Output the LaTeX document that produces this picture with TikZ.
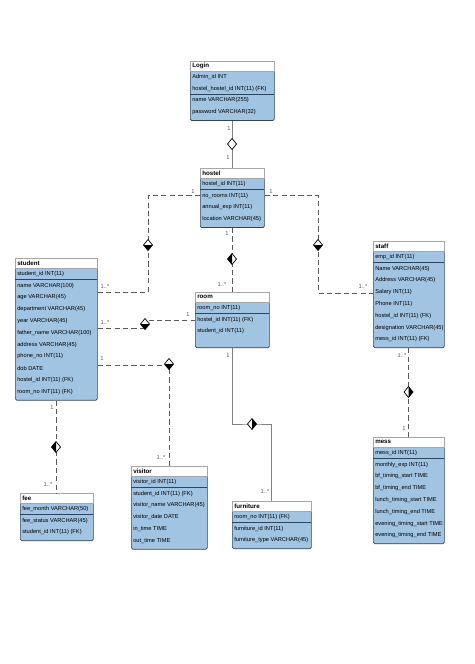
\documentclass[tikz,border=0pt]{standalone}
\usepackage{fontspec}
\setmainfont{Liberation Sans}
\usepackage{tikz}
\usetikzlibrary{calc}

\definecolor{tblblue}{RGB}{160,196,226}
\definecolor{tbledge}{RGB}{45,70,95}
\definecolor{linkgray}{RGB}{90,90,90}

\newcommand{\rowh}{11.8}
% table: [extra height]{name}{x}{y}{width}{title}{key rows}{other rows}
\newcommand{\ertable}[8][0]{%
  \foreach \rowtxt [count=\rowno] in {#7} {\xdef\nkey{\rowno}}
  \foreach \rowtxt [count=\rowno] in {#8} {\xdef\noth{\rowno}}
  \node[tblbody, minimum width=#5*0.025cm,
        minimum height={(12+\rowh*(\nkey+\noth)+#1)*0.025cm}] (#2) at (#3,#4) {};
  \draw[tblhead] (#3,#4) rectangle ++(#5,10);
  \node[tbltitle] (#2-title) at (#3,#4+5) {#6};
  \foreach \rowtxt [count=\rowno] in {#7}
    \node[tblrow] (#2-k\rowno) at (#3,#4+10+\rowh*\rowno-\rowh/2) {\rowtxt};
  \draw[sepline] (#3,#4+10+\rowh*\nkey) -- ++(#5,0);
  \foreach \rowtxt [count=\rowno] in {#8}
    \node[tblrow] (#2-o\rowno) at (#3,#4+10+\rowh*\nkey+\rowh*\rowno-\rowh/2) {\rowtxt};
}

\begin{document}
\begin{tikzpicture}[x=0.025cm, y=-0.025cm,
    tblbody/.style={draw=tbledge, fill=tblblue, line width=0.5pt, rounded corners=1pt,
        anchor=north west, inner sep=0pt},
    tblhead/.style={draw=gray!70, fill=white, line width=0.4pt},
    tbltitle/.style={anchor=west, inner sep=0pt, xshift=0.05cm,
        font=\fontsize{4.4}{5}\selectfont\bfseries},
    tblrow/.style={anchor=west, inner sep=0pt, xshift=0.05cm,
        font=\fontsize{4.05}{5}\selectfont},
    sepline/.style={draw=tbledge, line width=0.5pt},
    dashlink/.style={draw=linkgray, line width=0.6pt, dash pattern=on 1.3mm off 0.8mm},
    solidlink/.style={draw=gray, line width=0.7pt},
    mult/.style={inner sep=0pt, text=linkgray, font=\fontsize{4.1}{5}\selectfont},
    diaopen/.pic={\draw[black, line width=0.5pt, fill=white]
        (-4.5,0) -- (0,-5.5) -- (4.5,0) -- (0,5.5) -- cycle;},
    diatb/.pic={\fill[white] (-4.5,0) -- (0,-5.5) -- (4.5,0) -- (0,5.5) -- cycle;
        \fill[black] (-4.5,0) -- (4.5,0) -- (0,5.5) -- cycle;
        \draw[black, line width=0.5pt] (-4.5,0) -- (0,-5.5) -- (4.5,0) -- (0,5.5) -- cycle;},
    dialeft/.pic={\fill[white] (-4.5,0) -- (0,-5.5) -- (4.5,0) -- (0,5.5) -- cycle;
        \fill[black] (0,-5.5) -- (-4.5,0) -- (0,5.5) -- cycle;
        \draw[black, line width=0.5pt] (-4.5,0) -- (0,-5.5) -- (4.5,0) -- (0,5.5) -- cycle;},
    diaright/.pic={\fill[white] (-4.5,0) -- (0,-5.5) -- (4.5,0) -- (0,5.5) -- cycle;
        \fill[black] (0,-5.5) -- (4.5,0) -- (0,5.5) -- cycle;
        \draw[black, line width=0.5pt] (-4.5,0) -- (0,-5.5) -- (4.5,0) -- (0,5.5) -- cycle;}]

    \fill[white] (0,0) rectangle (474,664);
    \useasboundingbox (0,0) rectangle (474,664);

    %% ── Tables ─────────────────────────────────────────────────────────
    \ertable{login}{190}{61}{84}{Login}
        {Admin\_id INT, hostel\_hostel\_id INT(11) (FK)}
        {name VARCHAR(255), password VARCHAR(32)}
    \ertable{hostel}{200}{168}{64}{hostel}
        {hostel\_id INT(11)}
        {no\_rooms INT(11), annual\_exp INT(11), location VARCHAR(45)}
    \ertable{student}{15}{258}{82}{student}
        {student\_id INT(11)}
        {name VARCHAR(100), age VARCHAR(45), department VARCHAR(45),
         year VARCHAR(45), father\_name VARCHAR(100), address VARCHAR(45),
         phone\_no INT(11), dob DATE, hostel\_id INT(11) (FK), room\_no INT(11) (FK)}
    \ertable{staff}{373}{241}{71}{staff}
        {emp\_id INT(11)}
        {Name VARCHAR(45), Address VARCHAR(45), Salary INT(11), Phone INT(11),
         hostel\_id INT(11) (FK), designation VARCHAR(45), mess\_id INT(11) (FK)}
    \ertable[8]{room}{195}{292}{74}{room}
        {room\_no INT(11)}
        {hostel\_id INT(11) (FK), student\_id INT(11)}
    \ertable{fee}{20}{493}{73}{fee}
        {fee\_month VARCHAR(50)}
        {fee\_status VARCHAR(45), student\_id INT(11) (FK)}
    \ertable{visitor}{131}{466}{76}{visitor}
        {visitor\_id INT(11)}
        {student\_id INT(11) (FK), visitor\_name VARCHAR(45), visitor\_date DATE,
         in\_time TIME, out\_time TIME}
    \ertable{furniture}{232}{501}{79}{furniture}
        {room\_no INT(11) (FK)}
        {furniture\_id INT(11), furniture\_type VARCHAR(45)}
    \ertable{mess}{373}{437}{71}{mess}
        {mess\_id INT(11)}
        {monthly\_exp INT(11), bf\_timing\_start TIME, bf\_timing\_end TIME,
         lunch\_timing\_start TIME, lunch\_timing\_end TIME,
         evening\_timing\_start TIME, evening\_timing\_end TIME}

    %% ── Login – hostel ─────────────────────────────────────────────────
    \draw[solidlink] (login.south) -- (hostel.north);
    \pic at (232,144) {diaopen};
    \node[mult] (m1) at (229,129) {1};
    \node[mult] (m2) at (228,158) {1};

    %% ── hostel – student / staff ───────────────────────────────────────
    \coordinate (hs) at (148,292);
    \draw[dashlink] (hostel.west |- hostel-o1) -| (hs) -- (student.east |- hs);
    \pic at (148,245) {diatb};
    \node[mult] (m3) at (193,192) {1};
    \node[mult] (m4) at (105,287) {1..*};

    \coordinate (hf) at (318,293);
    \draw[dashlink] (hostel.east |- hostel-o1) -| (hf) -- (staff.west |- hf);
    \pic at (318,245) {diatb};
    \node[mult] (m5) at (271,192) {1};
    \node[mult] (m6) at (363,287) {1..*};

    %% ── hostel – room ──────────────────────────────────────────────────
    \draw[dashlink] (hostel.south) -- (room.north);
    \pic at (232,259) {dialeft};
    \node[mult] (m7) at (227,234) {1};
    \node[mult] (m8) at (222,285) {1..*};

    %% ── student – room / visitor / fee ─────────────────────────────────
    \coordinate (sr1) at (145,328);
    \coordinate (sr2) at (145,320);
    \draw[dashlink] (student.east |- sr1) -- (sr1) -- (sr2) -- (room.west |- sr2);
    \pic at (145,324) {diatb};
    \node[mult] (m9) at (105,323) {1..*};
    \node[mult] (m10) at (188,315) {1};

    \coordinate (sv) at (169,365);
    \draw[dashlink] (student.east |- sv) -| (visitor.north);
    \pic at (169,364) {diatb};
    \node[mult] (m11) at (102,359) {1};
    \node[mult] (m12) at (161,458) {1..*};

    \draw[dashlink] (student.south) -- (student.south |- fee.north);
    \pic at (56,447) {dialeft};
    \node[mult] (m13) at (52,408) {1};
    \node[mult] (m14) at (48,485) {1..*};

    %% ── room – furniture ───────────────────────────────────────────────
    \coordinate (rf) at (252,424);
    \draw[solidlink] (room.south) |- (rf) -| (furniture.north);
    \pic at (252,424) {diaright};
    \node[mult] (m15) at (228,356) {1};
    \node[mult] (m16) at (265,492) {1..*};

    %% ── staff – mess ───────────────────────────────────────────────────
    \draw[dashlink] (staff.south) -- (mess.north);
    \pic at (408.5,392) {diaright};
    \node[mult] (m17) at (402,356) {1..*};
    \node[mult] (m18) at (404,429) {1};

\end{tikzpicture}
\end{document}
